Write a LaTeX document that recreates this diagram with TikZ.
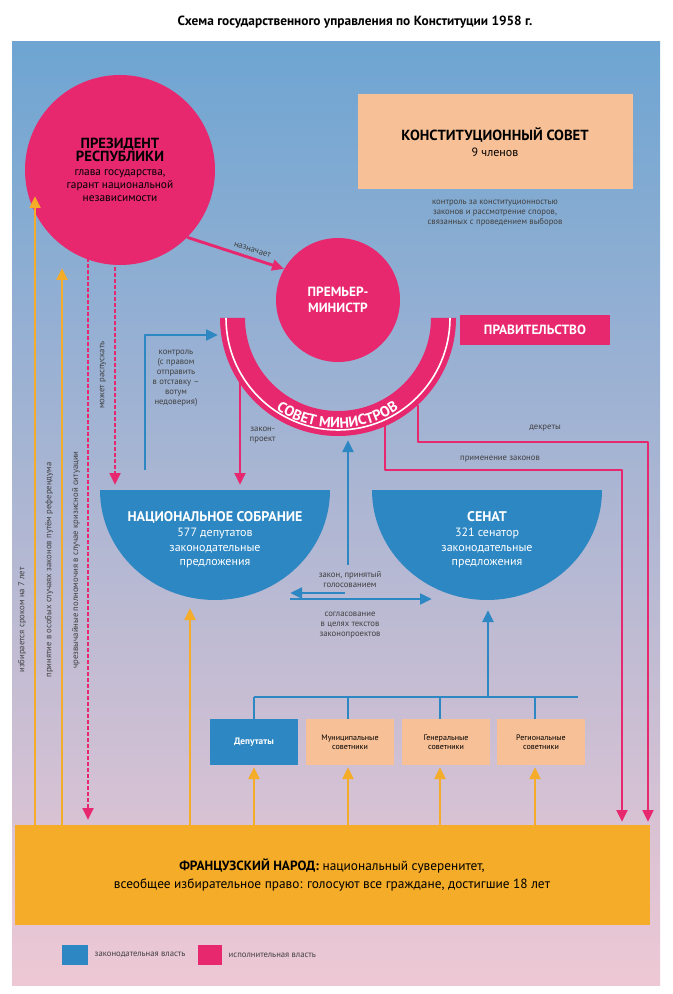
\documentclass[tikz,border=0pt]{standalone}
\usepackage{fontspec}
\setmainfont{PT Sans}
\usetikzlibrary{positioning}
\usetikzlibrary{arrows.meta}
\usetikzlibrary{decorations.text}

\definecolor{exec}{RGB}{232,40,110}
\definecolor{legis}{RGB}{45,135,195}
\definecolor{people}{RGB}{245,172,40}
\definecolor{peach}{RGB}{248,192,150}
\definecolor{skytop}{RGB}{110,165,210}
\definecolor{skybot}{RGB}{238,200,212}

\begin{document}
\begin{tikzpicture}[x=0.75pt, y=-0.75pt, line join=bevel]

    % styles of the scheme
    \tikzset{%
      small/.style    = {font=\fontsize{6.5}{7.5}\selectfont, align=center, text=black!75},
      exec_arrow/.style = {draw=exec, line width=2.2pt, -{Triangle[length=9pt,width=8pt]}},
      exec_dash/.style  = {draw=exec, line width=2pt, dash pattern=on 3pt off 1.5pt, -{Triangle[length=9pt,width=8pt]}},
      legis_arrow/.style= {draw=legis, line width=2.2pt, -{Triangle[length=9pt,width=8pt]}},
      legis_line/.style = {draw=legis, line width=2.2pt},
      people_arrow/.style={draw=people, line width=2.2pt, -{Triangle[length=9pt,width=8pt]}},
      seatbox/.style  = {minimum width=88pt*0.75, minimum height=46pt*0.75, inner sep=1pt,
                         font=\fontsize{6}{7}\selectfont, align=center}
    }

    \useasboundingbox (0,0) rectangle (672,994);
    \fill[white] (0,0) rectangle (672,994);
    \shade[top color=skytop, bottom color=skybot] (12,42) rectangle (660,985);
    \node (title) at (355,22) {\bfseries\fontsize{10}{12}\selectfont Схема государственного управления по Конституции 1958 г.};

    % people
    \node[fill=people, minimum width=635pt*0.75, minimum height=100pt*0.75, align=center,
          font=\fontsize{10}{13}\selectfont] (people) at (332,875)
      {\textbf{ФРАНЦУЗСКИЙ НАРОД:} национальный суверенитет,\\
       всеобщее избирательное право: голосуют все граждане, достигшие 18 лет};

    % president
    \node[circle, fill=exec, minimum size=190pt*0.75, align=center, inner sep=0pt,
          font=\fontsize{8.5}{10}\selectfont] (pres) at (120,170)
      {\textbf{\fontsize{11}{12}\selectfont ПРЕЗИДЕНТ}\\ \textbf{\fontsize{11}{12}\selectfont РЕСПУБЛИКИ}\\
       глава государства,\\ гарант национальной\\ независимости};

    % constitutional council
    \node[fill=peach, minimum width=275pt*0.75, minimum height=95pt*0.75, align=center] (council) at (495,142)
      {\textbf{\fontsize{11}{13}\selectfont КОНСТИТУЦИОННЫЙ СОВЕТ}\\ {\fontsize{9}{11}\selectfont 9 членов}};
    \node[small, below=4pt of council] (control)
      {контроль за конституционностью\\ законов и рассмотрение споров,\\ связанных с проведением выборов};

    % government
    \fill[exec] (220,318) arc[start angle=180, end angle=0, radius=118] -- (431,318)
      arc[start angle=0, end angle=180, radius=93] -- cycle;
    \draw[white, line width=1.2pt] (226,318) arc[start angle=180, end angle=0, radius=112];
    \path[decorate, decoration={text along path, text align=center,
          text={|\bfseries\fontsize{11}{12}\selectfont\color{white}|СОВЕТ МИНИСТРОВ}}]
      (230,338) arc[start angle=170, end angle=10, radius=109];
    \node[circle, fill=exec, minimum size=124pt*0.75, align=center, font=\bfseries\fontsize{10}{12}\selectfont,
          text=white] (premier) at (338,300) {ПРЕМЬЕР-\\МИНИСТР};
    \node[fill=exec, text=white, font=\bfseries\fontsize{10}{12}\selectfont,
          minimum width=150pt*0.75, minimum height=30pt*0.75] (gov) at (535,330) {ПРАВИТЕЛЬСТВО};

    % parliament
    \fill[legis] (100,490) arc[start angle=180, end angle=0, x radius=115, y radius=110] -- cycle;
    \fill[legis] (372,490) arc[start angle=180, end angle=0, x radius=115, y radius=110] -- cycle;
    \node[align=center, text=white, font=\fontsize{9}{11}\selectfont] (assembly) at (215,540)
      {\textbf{\fontsize{10.5}{12}\selectfont НАЦИОНАЛЬНОЕ СОБРАНИЕ}\\ 577 депутатов\\ законодательные\\ предложения};
    \node[align=center, text=white, font=\fontsize{9}{11}\selectfont] (senate) at (487,540)
      {\textbf{\fontsize{10.5}{12}\selectfont СЕНАТ}\\ 321 сенатор\\ законодательные\\ предложения};

    % electors of the senate
    \node[seatbox, fill=legis, text=white, font=\bfseries\fontsize{7}{8}\selectfont] (deputies) at (254,742) {Депутаты};
    \node[seatbox, fill=peach] (municipal) at (350,742) {Муниципальные\\ советники};
    \node[seatbox, fill=peach] (general) at (446,742) {Генеральные\\ советники};
    \node[seatbox, fill=peach] (regional) at (541,742) {Региональные\\ советники};

    \coordinate (treeL) at (254,697);
    \coordinate (treeR) at (578,697);
    \coordinate (treeS) at (488,697);
    \draw[legis_line] (treeL) -- (treeR);
    \foreach \seat/\xx in {deputies/254, municipal/348, general/440, regional/535}{
      \draw[legis_line] (\xx,697) -- (\xx,719);
      \draw[people_arrow] (\xx,825) -- (\xx,767);
    }
    \draw[legis_arrow] (treeS) -- (488,610);

    % between the chambers
    \node[small] (law) at (350,580) {закон, принятый\\ голосованием};
    \node[small] (agree) at (350,625) {согласование\\ в целях текстов\\ законопроектов};
    \draw[legis_arrow] (345,593) -- (290,593);
    \draw[legis_arrow] (290,599) -- (432,599);
    \draw[legis_arrow] (348,565) -- (348,440);

    % president arrows
    \draw[exec_arrow] (pres.-45) -- node[small, sloped, above right, pos=0.4] {назначает} (premier.150);
    \draw[exec_dash] (88,258) -- (88,820);
    \draw[exec_dash] (115,255) -- (115,485);
    \node[small, rotate=90] (dissolve) at (103,375) {может распускать};

    % people to president
    \draw[people_arrow] (35,825) -- (35,196);
    \draw[people_arrow] (62,825) -- (62,268);
    \draw[people_arrow] (190,825) -- (190,608);
    \node[small, rotate=90] (term) at (22,620) {избирается сроком на 7 лет};
    \node[small, rotate=90] (referendum) at (49,570) {принятие в особых случаях законов путём референдума};
    \node[small, rotate=90] (crisis) at (76,560) {чрезвычайные полномочия в случае кризисной ситуации};

    % control by assembly
    \coordinate (ctrlB) at (145,470);
    \coordinate (ctrlT) at (145,335);
    \draw[legis_arrow] (ctrlB) -- (ctrlT) -- (218,335);
    \node[small, anchor=north west] (ctrl) at (148,345)
      {контроль\\ (с правом\\ отправить\\ в отставку --\\ вотум\\ недоверия)};
    \draw[exec_arrow] (240,382) -- (240,485);
    \node[small, anchor=west] (bill) at (245,435) {закон-\\проект};

    % decrees
    \draw[exec_arrow] (418,405) -- (418,442) -- (648,442) -- (648,822);
    \draw[exec_arrow] (385,425) -- (385,470) -- (622,470) -- (622,822);
    \node[small] (decree) at (545,428) {декреты};
    \node[small] (apply) at (500,459) {применение законов};

    % legend
    \fill[legis] (62,945) rectangle (88,965);
    \node[small, anchor=west] (legL) at (90,955) {законодательная власть};
    \fill[exec] (198,945) rectangle (222,965);
    \node[small, anchor=west] (legE) at (224,955) {исполнительная власть};

\end{tikzpicture}
\end{document}
